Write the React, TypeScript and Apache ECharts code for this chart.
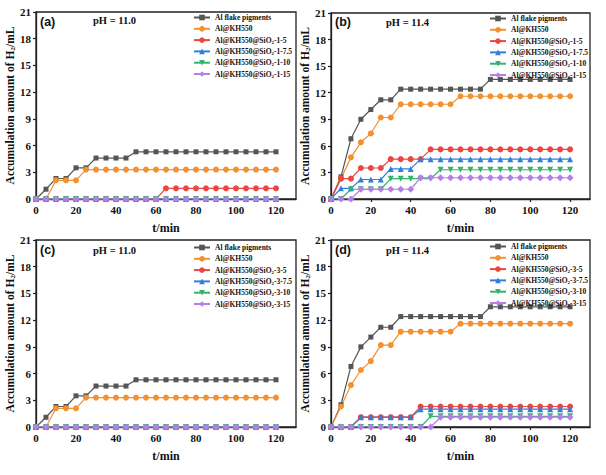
import React, { useEffect, useRef } from "react";
import * as echarts from "echarts";

// Sampling times (min)
const times = [0, 5, 10, 15, 20, 25, 30, 35, 40, 45, 50, 55, 60, 65, 70, 75, 80, 85, 90, 95, 100, 105, 110, 115, 120];

const namesSet1 = [
  "Al flake pigments",
  "Al@KH550",
  "Al@KH550@SiO2-1-5",
  "Al@KH550@SiO2-1-7.5",
  "Al@KH550@SiO2-1-10",
  "Al@KH550@SiO2-1-15",
];
const namesSet3 = [
  "Al flake pigments",
  "Al@KH550",
  "Al@KH550@SiO2-3-5",
  "Al@KH550@SiO2-3-7.5",
  "Al@KH550@SiO2-3-10",
  "Al@KH550@SiO2-3-15",
];

const xTicks = [0, 20, 40, 60, 80, 100, 120];

// pH 11.0 — H2 volume (mL)
const flake110 = [0, 1.1, 2.3, 2.3, 3.5, 3.5, 4.6, 4.6, 4.6, 4.6, 5.3, 5.3, 5.3, 5.3, 5.3, 5.3, 5.3, 5.3, 5.3, 5.3, 5.3, 5.3, 5.3, 5.3, 5.3];
const kh110 = [0, 0, 2.1, 2.1, 2.1, 3.3, 3.3, 3.3, 3.3, 3.3, 3.3, 3.3, 3.3, 3.3, 3.3, 3.3, 3.3, 3.3, 3.3, 3.3, 3.3, 3.3, 3.3, 3.3, 3.3];
const si1_5_110 = [0, 0, 0, 0, 0, 0, 0, 0, 0, 0, 0, 0, 0, 1.2, 1.2, 1.2, 1.2, 1.2, 1.2, 1.2, 1.2, 1.2, 1.2, 1.2, 1.2];
const zeros = [0, 0, 0, 0, 0, 0, 0, 0, 0, 0, 0, 0, 0, 0, 0, 0, 0, 0, 0, 0, 0, 0, 0, 0, 0];

// pH 11.4 — H2 volume (mL)
const flake114 = [0, 2.5, 6.8, 9.0, 10.1, 11.2, 11.2, 12.4, 12.4, 12.4, 12.4, 12.4, 12.4, 12.4, 12.4, 12.4, 13.5, 13.5, 13.5, 13.5, 13.5, 13.5, 13.5, 13.5, 13.5];
const kh114 = [0, 2.3, 4.7, 6.4, 7.4, 9.2, 9.2, 10.7, 10.7, 10.7, 10.7, 10.7, 10.7, 11.6, 11.6, 11.6, 11.6, 11.6, 11.6, 11.6, 11.6, 11.6, 11.6, 11.6, 11.6];
const si1_5_114 = [0, 2.3, 2.3, 3.5, 3.5, 3.5, 4.5, 4.5, 4.5, 4.5, 5.6, 5.6, 5.6, 5.6, 5.6, 5.6, 5.6, 5.6, 5.6, 5.6, 5.6, 5.6, 5.6, 5.6, 5.6];
const si1_75_114 = [0, 1.2, 1.2, 2.2, 2.2, 2.2, 3.4, 3.4, 3.4, 4.5, 4.5, 4.5, 4.5, 4.5, 4.5, 4.5, 4.5, 4.5, 4.5, 4.5, 4.5, 4.5, 4.5, 4.5, 4.5];
const si1_10_114 = [0, 0, 1.1, 1.1, 1.1, 1.1, 2.3, 2.3, 2.3, 2.3, 2.3, 3.3, 3.3, 3.3, 3.3, 3.3, 3.3, 3.3, 3.3, 3.3, 3.3, 3.3, 3.3, 3.3, 3.3];
const si1_15_114 = [0, 0, 0, 1.1, 1.1, 1.1, 1.1, 1.1, 1.1, 2.4, 2.4, 2.4, 2.4, 2.4, 2.4, 2.4, 2.4, 2.4, 2.4, 2.4, 2.4, 2.4, 2.4, 2.4, 2.4];
const si3_5_114 = [0, 0, 0, 1.1, 1.1, 1.1, 1.1, 1.1, 1.1, 2.3, 2.3, 2.3, 2.3, 2.3, 2.3, 2.3, 2.3, 2.3, 2.3, 2.3, 2.3, 2.3, 2.3, 2.3, 2.3];
const si3_75_114 = [0, 0, 0, 1.1, 1.1, 1.1, 1.1, 1.1, 1.1, 2.0, 2.0, 2.0, 2.0, 2.0, 2.0, 2.0, 2.0, 2.0, 2.0, 2.0, 2.0, 2.0, 2.0, 2.0, 2.0];
const si3_10_114 = [0, 0, 0, 0, 0, 0, 0, 0, 0, 0, 1.2, 1.2, 1.2, 1.2, 1.2, 1.2, 1.2, 1.2, 1.2, 1.2, 1.2, 1.2, 1.2, 1.2, 1.2];
const si3_15_114 = [0, 0, 0, 0, 0, 0, 0, 0, 0, 0, 0, 1.1, 1.1, 1.1, 1.1, 1.1, 1.1, 1.1, 1.1, 1.1, 1.1, 1.1, 1.1, 1.1, 1.1];

const SERIF = '"Liberation Serif", "Times New Roman", serif';
const SANS = '"Liberation Sans", Arial, sans-serif';

const markers = [
  { color: "#555555", symbol: "rect", size: 5, rotate: 0 },
  { color: "#f39131", symbol: "circle", size: 6, rotate: 0 },
  { color: "#ea4742", symbol: "circle", size: 6, rotate: 0 },
  { color: "#2f7fdc", symbol: "triangle", size: 6, rotate: 0 },
  { color: "#34b36c", symbol: "triangle", size: 6, rotate: 180 },
  { color: "#b580e6", symbol: "diamond", size: 7, rotate: 0 },
];

const panels = [
  {
    tag: "(a)", ph: "pH = 11.0", names: namesSet1,
    values: [flake110, kh110, si1_5_110, zeros, zeros, zeros],
    grid: { left: 36, top: 12, width: 260, height: 187 },
    tagPos: [40, 22], phPos: [93, 20], legendPos: [193, 13],
  },
  {
    tag: "(b)", ph: "pH = 11.4", names: namesSet1,
    values: [flake114, kh114, si1_5_114, si1_75_114, si1_10_114, si1_15_114],
    grid: { left: 331, top: 13, width: 259, height: 186 },
    tagPos: [335, 22], phPos: [386, 22], legendPos: [489, 14],
  },
  {
    tag: "(c)", ph: "pH = 11.0", names: namesSet3,
    values: [flake110, kh110, zeros, zeros, zeros, zeros],
    grid: { left: 36, top: 240, width: 260, height: 187 },
    tagPos: [40, 250], phPos: [93, 250], legendPos: [193, 243],
  },
  {
    tag: "(d)", ph: "pH = 11.4", names: namesSet3,
    values: [flake114, kh114, si3_5_114, si3_75_114, si3_10_114, si3_15_114],
    grid: { left: 331, top: 240, width: 259, height: 187 },
    tagPos: [335, 250], phPos: [386, 250], legendPos: [489, 242],
  },
];

function buildOption() {
  const grid: any[] = [];
  const xAxis: any[] = [];
  const yAxis: any[] = [];
  const series: any[] = [];
  const legend: any[] = [];
  const graphic: any[] = [];

  panels.forEach((p, gi) => {
    grid.push({
      ...p.grid,
      show: true,
      borderColor: "#222",
      borderWidth: 1.3,
      backgroundColor: "transparent",
    });
    xAxis.push({
      type: "value",
      gridIndex: gi,
      min: 0,
      max: 130,
      interval: 20,
      name: "t/min",
      nameLocation: "middle",
      nameGap: 23,
      nameTextStyle: { fontFamily: SERIF, fontWeight: "bold", fontSize: 12, color: "#111" },
      axisLine: { lineStyle: { color: "#222", width: 1.3 } },
      axisTick: { inside: false, length: 3, lineStyle: { color: "#222", width: 1.2 }, customValues: xTicks },
      axisLabel: { fontFamily: SERIF, fontWeight: "bold", fontSize: 11, color: "#111", margin: 5, customValues: xTicks },
      splitLine: { show: false },
    });
    yAxis.push({
      type: "value",
      gridIndex: gi,
      min: 0,
      max: 21,
      interval: 3,
      name: "Accumulation amount of H{sub|2}/mL",
      nameLocation: "middle",
      nameGap: 17,
      nameRotate: 90,
      nameTextStyle: {
        fontFamily: SERIF, fontWeight: "bold", fontSize: 11.5, color: "#111",
        rich: {
          sub: { fontFamily: SERIF, fontWeight: "bold", fontSize: 7, color: "#111", verticalAlign: "bottom", lineHeight: 8 },
        },
      },
      axisLine: { show: true, lineStyle: { color: "#222", width: 1.3 } },
      axisTick: { show: true, inside: false, length: 3, lineStyle: { color: "#222", width: 1.2 } },
      axisLabel: { fontFamily: SERIF, fontWeight: "bold", fontSize: 11, color: "#111", margin: 5 },
      splitLine: { show: false },
    });

    p.names.forEach((name, si) => {
      const m = markers[si];
      series.push({
        type: "line",
        name,
        xAxisIndex: gi,
        yAxisIndex: gi,
        data: times.map((t, i) => [t, p.values[si][i]]),
        symbol: m.symbol,
        symbolSize: m.size,
        symbolRotate: m.rotate,
        showAllSymbol: true,
        color: m.color,
        itemStyle: { color: m.color },
        lineStyle: { color: m.color, width: 1.2 },
      });
    });

    legend.push({
      orient: "vertical",
      left: p.legendPos[0],
      top: p.legendPos[1],
      padding: 0,
      itemGap: 2.3,
      itemWidth: 16,
      itemHeight: 7,
      selectedMode: false,
      data: p.names,
      formatter: (n: string) => n.replace("SiO2", "SiO{sub|2}"),
      textStyle: {
        fontFamily: SERIF,
        fontWeight: "bold",
        fontSize: 7.5,
        lineHeight: 9,
        color: "#111",
        rich: {
          sub: { fontFamily: SERIF, fontWeight: "bold", fontSize: 5, color: "#111", verticalAlign: "bottom", lineHeight: 6 },
        },
      },
    });

    graphic.push({
      type: "text",
      x: p.tagPos[0],
      y: p.tagPos[1],
      style: { text: p.tag, font: `bold 12.5px ${SANS}`, fill: "#111", verticalAlign: "middle" },
    });
    graphic.push({
      type: "text",
      x: p.phPos[0],
      y: p.phPos[1],
      style: { text: p.ph, font: `bold 10.5px ${SERIF}`, fill: "#111", verticalAlign: "middle" },
    });
  });

  return {
    animation: false,
    backgroundColor: "#ffffff",
    grid,
    xAxis,
    yAxis,
    series,
    legend,
    graphic,
  };
}

export default function App() {
  const ref = useRef<HTMLDivElement>(null);
  useEffect(() => {
    if (!ref.current) return;
    const chart = echarts.init(ref.current, null, { renderer: "svg" });
    chart.setOption(buildOption() as any);
    return () => chart.dispose();
  }, []);
  return <div ref={ref} style={{ width: 606, height: 475, position: "absolute", left: 0, top: 0 }} />;
}
